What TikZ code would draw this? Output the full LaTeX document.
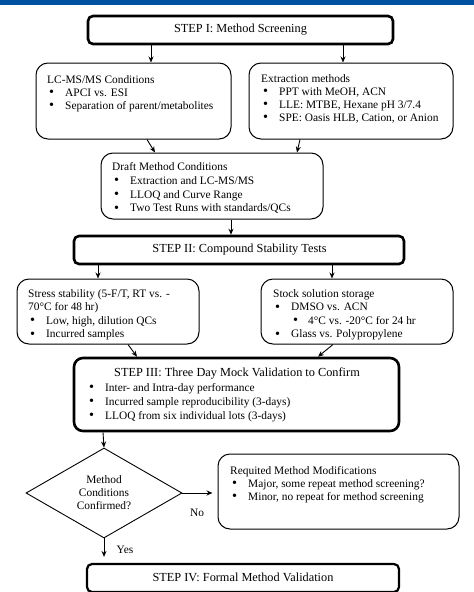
\documentclass[tikz,border=0pt]{standalone}
\usepackage{fontspec}
\setmainfont{Liberation Serif}
\usetikzlibrary{shapes.geometric,arrows.meta}
\definecolor{topblue}{RGB}{0,82,160}
\newcommand{\tb}[2]{{\fontsize{11.4}{#1}\selectfont\begin{tabular}[t]{@{}l@{}}#2\end{tabular}}}
\newcommand{\bigbul}{\raisebox{-0.3pt}{\scalebox{1.25}{\textbullet}}}
\newcommand{\bl}[1]{\hspace*{2pt}\makebox[16pt][l]{\bigbul}#1}
\newcommand{\sbl}[1]{\hspace*{20pt}\makebox[15pt][l]{\bigbul}#1}
\begin{document}
\begin{tikzpicture}[x=1pt,y=-1pt,
  thinbox/.style={draw,line width=1pt,rounded corners=12pt,inner sep=0pt},
  thickbox/.style={draw,line width=2.6pt,rounded corners=5pt,inner sep=0pt},
  txt/.style={inner sep=0pt,anchor=base west},
  steptxt/.style={inner sep=0pt,font=\fontsize{12.3}{14}\selectfont},
  arr/.style={line width=0.9pt,-{Stealth[length=6pt,width=5pt]}}]
\useasboundingbox (0,0) rectangle (474,592);
\fill[topblue] (0,0) rectangle (474,5);
% boxes
\node[thickbox,minimum width=305pt,minimum height=28pt] (s1) at (240.5,30) {};
\node[steptxt] (s1t) at (240.5,30) {STEP I: Method Screening};
\node[thinbox,minimum width=195pt,minimum height=76pt] (lc) at (133.5,101) {};
\node[txt] (lct) at (47,83) {\tb{13}{LC-MS/MS Conditions\\ \bl{APCI vs. ESI}\\ \bl{Separation of parent/metabolites}}};
\node[thinbox,minimum width=204pt,minimum height=76pt] (ex) at (351,101) {};
\node[txt] (ext) at (261,82.5) {\tb{13}{Extraction methods\\ \bl{PPT with MeOH, ACN}\\ \bl{LLE: MTBE, Hexane pH 3/7.4}\\ \bl{SPE: Oasis HLB, Cation, or Anion}}};
\node[thinbox,minimum width=222pt,minimum height=66pt] (dr) at (212,186) {};
\node[txt] (drt) at (112,170.5) {\tb{13.8}{Draft Method Conditions\\ \bl{Extraction and LC-MS/MS}\\ \bl{LLOQ and Curve Range}\\ \bl{Two Test Runs with standards/QCs}}};
\node[thickbox,minimum width=330pt,minimum height=28pt] (s2) at (239,250) {};
\node[steptxt] (s2t) at (239.5,250) {STEP II: Compound Stability Tests};
\node[thinbox,minimum width=182pt,minimum height=65pt] (st) at (108,311.5) {};
\node[txt] (stt) at (28,297.5) {\tb{13.4}{Stress stability (5-F/T, RT vs. -\\ 70°C for 48 hr)\\ \bl{Low, high, dilution QCs}\\ \bl{Incurred samples}}};
\node[thinbox,minimum width=192pt,minimum height=65pt] (so) at (357,311.5) {};
\node[txt] (sot) at (273,297.5) {\tb{13.4}{Stock solution storage\\ \bl{DMSO vs. ACN}\\ \sbl{4°C vs. -20°C for 24 hr}\\ \bl{Glass vs. Polypropylene}}};
\node[thickbox,minimum width=325pt,minimum height=73pt,rounded corners=9pt] (s3) at (236.5,394.5) {};
\node[steptxt] (s3t) at (237,373) {STEP III: Three Day Mock Validation to Confirm};
\node[txt] (s3i) at (87,391.5) {\tb{14}{\bl{Inter- and Intra-day performance}\\ \bl{Incurred sample reproducibility (3-days)}\\ \bl{LLOQ from six individual lots (3-days)}}};
\node[draw,diamond,line width=0.9pt,minimum width=156pt,minimum height=90pt,inner sep=0pt,align=center,font=\fontsize{11.4}{13}\selectfont] (dia) at (104,493) {Method\\Conditions\\Confirmed?};
\node[thinbox,minimum width=241pt,minimum height=75pt] (rq) at (338.5,491.5) {};
\node[txt] (rqt) at (230,474.5) {\tb{12.8}{Requited Method Modifications\\ \bl{Major, some repeat method screening?}\\ \bl{Minor, no repeat for method screening}}};
\node[thickbox,minimum width=312pt,minimum height=28pt,line width=2.2pt] (s4) at (243,578) {};
\node[steptxt] (s4t) at (243,577) {STEP IV: Formal Method Validation};
% connectors
\draw[arr] ([xshift=-89.5pt]s1.south) -- ([xshift=17.5pt]lc.north);
\draw[arr] ([xshift=102.5pt]s1.south) -- ([xshift=-8pt]ex.north);
\draw[arr] ([xshift=13.5pt]lc.south) -- ([xshift=-57pt]dr.north);
\draw[arr] ([xshift=-51pt]ex.south) -- ([xshift=85pt]dr.north);
\draw[arr] ([xshift=19pt]dr.south) -- ([xshift=-8pt]s2.north);
\draw[arr] ([xshift=-141pt]s2.south) -- ([xshift=-10pt]st.north);
\draw[arr] ([xshift=93pt]s2.south) -- ([xshift=-25pt]so.north);
\draw[arr] ([xshift=20pt]st.south) -- ([xshift=-99.5pt]s3.north);
\draw[arr] ([xshift=-24pt]so.south) -- ([xshift=81.5pt]s3.north);
\draw[arr] ([xshift=-133.5pt]s3.south) -- (dia.north);
\draw[arr,shorten >=5pt] (dia.east) -- (dia.east -| rq.west);
\draw[arr,shorten >=6pt] (dia.south) -- (dia.south |- s4.north);
\node[inner sep=0pt,font=\fontsize{11.4}{13}\selectfont] (no) at (197,513) {No};
\node[inner sep=0pt,font=\fontsize{11.4}{13}\selectfont] (yes) at (125,550) {Yes};
\end{tikzpicture}
\end{document}
